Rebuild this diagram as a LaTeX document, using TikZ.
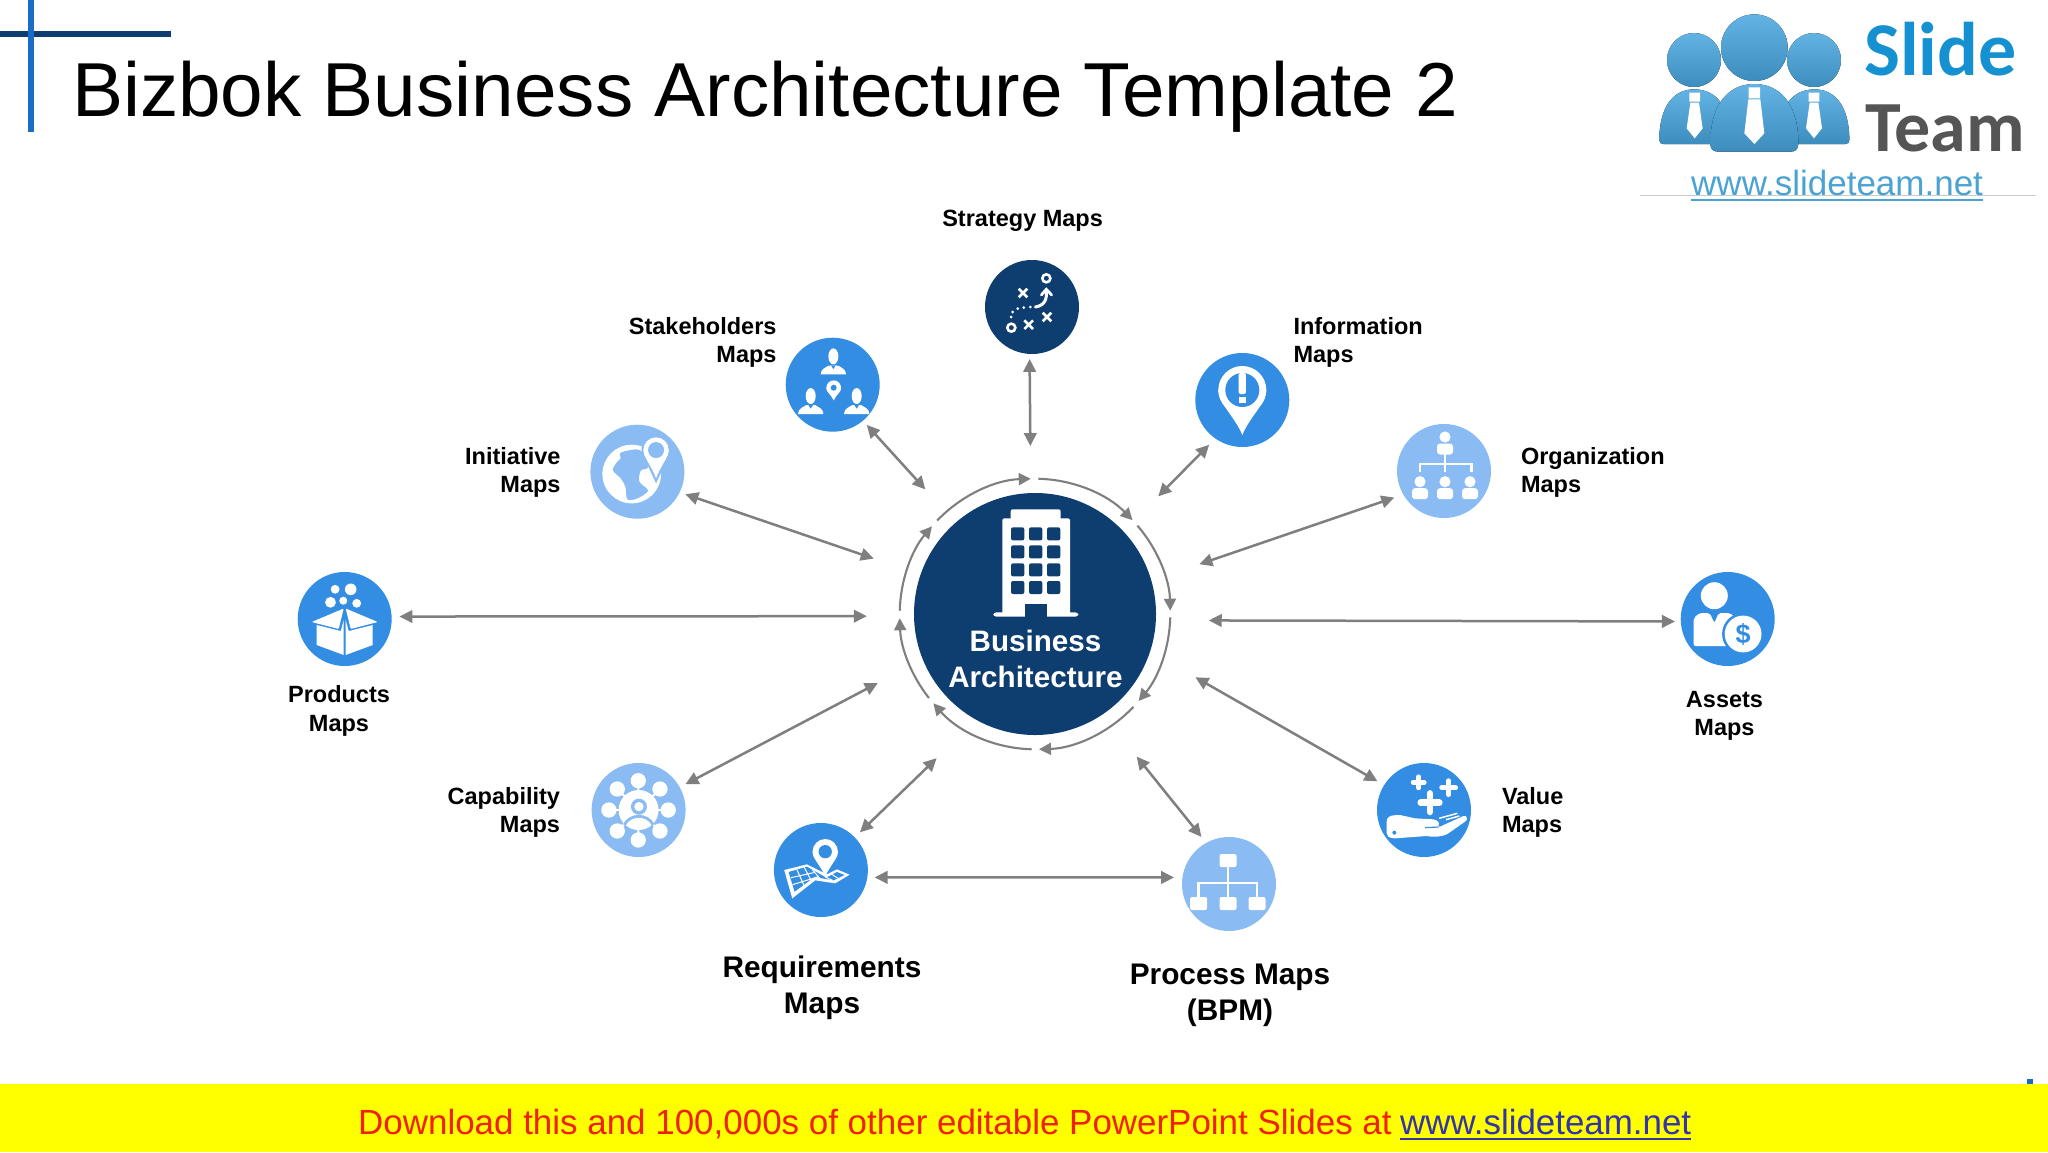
\documentclass[tikz,border=0pt]{standalone}
\usepackage{fontspec}
\setmainfont{Liberation Sans}
\newfontfamily\logofont{Carlito}
\usetikzlibrary{arrows.meta}
\definecolor{navy}{HTML}{0E3D70}
\definecolor{midb}{HTML}{338EE3}
\definecolor{lightb}{HTML}{8ABBF2}
\definecolor{conngray}{HTML}{7F7F7F}
\definecolor{accentb}{HTML}{1A6DC4}
\definecolor{footred}{HTML}{F02000}
\definecolor{footblue}{HTML}{3333AA}
\definecolor{footyellow}{HTML}{FFFF00}
\definecolor{logoblue}{HTML}{47A6DF}
\definecolor{logotext}{HTML}{1590D0}
\definecolor{logogray}{HTML}{555555}
\definecolor{logourl}{HTML}{4BA3D3}
\tikzset{
  iconbase/.style={circle,minimum size=94pt,inner sep=0pt,outer sep=0pt},
  darkicon/.style={iconbase,fill=navy},
  midicon/.style={iconbase,fill=midb},
  lighticon/.style={iconbase,fill=lightb},
  biarrow/.style={draw=conngray,fill=none,line width=2.5pt,<->,>={Triangle[length=13pt,width=12.5pt]}},
  ringarrow/.style={draw=conngray,line width=2.1pt,->,>={Triangle[length=12pt,width=12pt]}},
  lab/.style={inner sep=0pt,outer sep=0pt,font=\fontsize{23.5}{28.5}\selectfont\bfseries},
  biglab/.style={inner sep=0pt,outer sep=0pt,align=center,font=\fontsize{29.8}{36}\selectfont\bfseries},
  zoomed/.style n args={4}{shift={(#1)},shift={(-#2/#4,-#3/3)},x=1pt/#4,y=-1pt/3},
}
\newcommand\iconPerson[2]{\begin{scope}[shift={(#1,#2)}]
  \fill[white] (0,0) ellipse (15 and 24);
  \fill[white] (-38,54) .. controls (-38,38) and (-24,34) .. (-13,27) -- (13,27) .. controls (24,34) and (38,38) .. (38,54) -- cycle;
  \fill[midb] (-7,27) -- (7,27) -- (0,38) -- cycle;
  \draw[midb,line width=.5pt] (-13,24) -- (-13,28) (13,24) -- (13,28);
\end{scope}}
\newcommand\iconPin[6]{\begin{scope}[shift={(#1,#2)}]
  \fill[white] (0,#4) .. controls ({-.3*#3},{.6*#4}) and ({-#3},{.55*#3}) .. ({-#3},0) -- (#3,0) .. controls (#3,{.55*#3}) and ({.3*#3},{.6*#4}) .. (0,#4) -- cycle;
  \fill[white] (0,0) circle (#3);
  \fill[#6] (0,0) circle (#5);
\end{scope}}
\newcommand\iconCross[2]{\draw[white,line width=2.6pt] (#1-13,#2-13) -- (#1+13,#2+13) (#1-13,#2+13) -- (#1+13,#2-13);}
\newcommand\iconPlus[4]{\draw[white,line width=#4pt,line cap=round] (#1-#3,#2) -- (#1+#3,#2) (#1,#2-#3) -- (#1,#2+#3);}
\newcommand\iconOrg[2]{\begin{scope}[shift={(#1,#2)}]
  \fill[white] (0,0) circle (5.6);
  \fill[white,rounded corners=3pt] (-8,6.5) rectangle (8,17.5);
\end{scope}}
\begin{document}
\begin{tikzpicture}[x=1pt,y=-1pt]
\useasboundingbox (0,0) rectangle (2048,1152);
\fill[white] (0,0) rectangle (2048,1152);

% title accent and title
\fill[navy] (0,30.7) rectangle (171,37.3);
\fill[accentb] (28,0) rectangle (33.7,132);
\node[anchor=base west,inner sep=0pt] (title) at (72,116) {\fontsize{76.5}{80}\selectfont Bizbok Business Architecture Template 2};

% footer
\fill[footyellow] (0,1084) rectangle (2048,1152);
\fill[accentb] (2026.5,1079) rectangle (2032.5,1084);
\node[anchor=base west,inner sep=0pt,text=footred] (foottext) at (358,1134) {\fontsize{34.95}{40}\selectfont Download this and 100,000s of other editable PowerPoint Slides at};
\node[anchor=base west,inner sep=0pt,text=footblue] (footlink) at (1400,1134) {\fontsize{34.9}{40}\selectfont www.slideteam.net};
\draw[footblue,line width=2pt] ([yshift=-5pt]footlink.base west) -- ([yshift=-5pt]footlink.base east);

% logo
\begin{scope}[shift={(1620,0)},x=1pt/3,y=-1pt/3]
  \fill[top color=logoblue!85!white,bottom color=logoblue!85!black] (222,180) circle (81);
  \fill[top color=logoblue!85!white,bottom color=logoblue!85!black] (582,180) circle (81);
  \fill[top color=logoblue!85!white,bottom color=logoblue!85!black] (118,420) .. controls (118,320) and (160,268) .. (222,268) .. controls (290,268) and (330,320) .. (330,420) -- (330,432) -- (130,432) .. controls (122,432) and (118,428) .. (118,420) -- cycle;
  \fill[top color=logoblue!85!white,bottom color=logoblue!85!black] (688,420) .. controls (688,320) and (646,268) .. (584,268) .. controls (516,268) and (476,320) .. (476,420) -- (476,432) -- (676,432) .. controls (684,432) and (688,428) .. (688,420) -- cycle;
  \fill[top color=logoblue!85!white,bottom color=logoblue!85!black] (403,143) circle (100);
  \fill[top color=logoblue!85!white,bottom color=logoblue!85!black] (271,430) .. controls (271,320) and (320,252) .. (403,252) .. controls (486,252) and (535,320) .. (535,430) .. controls (535,450) and (525,455) .. (510,455) -- (296,455) .. controls (280,455) and (271,450) .. (271,430) -- cycle;
  \fill[white] (386,262) -- (420,262) -- (420,295) -- (386,295) -- cycle (385,298) -- (421,298) -- (433,400) -- (403,432) -- (373,400) -- cycle;
  \fill[white] (208,278) -- (240,278) -- (240,305) -- (208,305) -- cycle (211,308) -- (237,308) -- (248,385) -- (224,415) -- (200,385) -- cycle;
  \fill[white] (566,278) -- (598,278) -- (598,305) -- (566,305) -- cycle (569,308) -- (595,308) -- (606,385) -- (582,415) -- (558,385) -- cycle;
\end{scope}
\node[anchor=base west,inner sep=0pt,text=logotext] (logoslide) at (1864,75) {\logofont\bfseries\fontsize{76}{80}\selectfont Slide};
\node[anchor=base west,inner sep=0pt,text=logogray] (logoteam) at (1865,151.5) {\logofont\bfseries\fontsize{72}{76}\selectfont Team};
\draw[black!20,line width=1pt] (1640,195) -- (2036,195);
\node[anchor=base west,inner sep=0pt,text=logourl] (logourl) at (1691,195) {\fontsize{35}{40}\selectfont www.slideteam.net};
\draw[logourl,line width=2.5pt] (logourl.base west |- 0,200) -- (logourl.base east |- 0,200);

% hub
\node[circle,fill=navy,minimum size=242pt,inner sep=0pt,outer sep=0pt] (hub) at (1035,614) {};
\foreach \a/\b in {-136.3/-91.8,-88.6/-43.9,-40.8/-1.4,1.4/40,43.3/88.3,91.4/138.7,141.6/178.2,181.4/220.4}
  \draw[ringarrow] ([shift={(\a:135.3)}]hub.center) arc[start angle=\a,end angle=\b,radius=135.3];
\begin{scope}[zoomed={hub}{525}{462}{3}]
  \fill[white,rounded corners=2pt] (452,180) -- (452,148) -- (602,148) -- (602,180) -- cycle;
  \fill[white,rounded corners=2pt] (427,462) -- (427,175) -- (630,175) -- (630,462) -- cycle;
  \fill[white,rounded corners=3pt] (400,457) rectangle (655,470);
  \fill[navy] (495,470) -- (495,432) -- (560,432) -- (560,470) -- cycle;
  \foreach \cx in {453,507,561} \foreach \cy in {202,256,310,363}
    \fill[navy,rounded corners=2pt] (\cx,\cy) rectangle (\cx+40,\cy+39);
\end{scope}
\node[inner sep=0pt,align=center,text=white,font=\fontsize{29.6}{36.5}\selectfont\bfseries] (hubtext) at (1035.5,659) {Business\\Architecture};

% icons
\node[darkicon] (strategy) at (1032,307) {};
\node[midicon] (stake) at (832.7,384.7) {};
\node[midicon] (info) at (1242.3,400) {};
\node[lighticon] (initiative) at (637.4,471.7) {};
\node[lighticon] (org) at (1444,471) {};
\node[midicon] (assets) at (1727.7,619) {};
\node[midicon] (value) at (1424,810) {};
\node[lighticon] (process) at (1229,884) {};
\node[midicon] (req) at (820.9,870) {};
\node[lighticon] (cap) at (638.6,810) {};
\node[midicon] (products) at (344.7,619) {};

% strategy glyph
\begin{scope}[zoomed={strategy}{155}{170}{3}]
  \draw[white,line width=2.6pt] (198,84) circle (12) (93,232) circle (12);
  \iconCross{128}{128}\iconCross{145}{223}\iconCross{200}{200}
  \draw[white,line width=3pt,line cap=round] (165,170) .. controls (195,165) and (200,145) .. (198,120);
  \draw[white,line width=2.8pt,line cap=round] (183,134) -- (198,117) -- (214,134);
  \foreach \p/\q in {150/170,130/172,112/175,97/185,92/200} \fill[white] (\p,\q) circle (4.5);
\end{scope}

% stakeholders glyph
\begin{scope}[zoomed={stake}{758}{163}{3}]
  \iconPerson{760}{78}\iconPerson{692}{197}\iconPerson{830}{197}
  \iconPin{761}{172}{22}{38}{9}{midb}
\end{scope}

% information glyph
\begin{scope}[shift={(info)}]
  \iconPin{0}{-10}{24}{45}{17}{midb}
  \fill[white,rounded corners=1.5pt] (-3.6,-27) rectangle (3.6,-6);
  \fill[white] (-3.6,-3) rectangle (3.6,3);
\end{scope}

% initiative glyph
\begin{scope}[zoomed={initiative}{172}{425}{3}]
  \fill[white] (155,432) circle (88);
  \fill[lightb] plot[smooth cycle] coordinates {(122,368) (170,358) (194,375) (204,412) (182,422) (178,455) (204,482) (172,505) (142,508) (136,470) (122,445) (98,420) (112,395) (122,385)};
  \fill[lightb] (228,360) circle (44);
  \fill[lightb] (198,395) -- (228,460) -- (258,395) -- cycle;
  \iconPin{228}{360}{38}{85}{24}{lightb}
\end{scope}

% organization glyph
\begin{scope}[shift={(org)}]
  \iconOrg{1}{-34}
  \draw[white,line width=2.2pt] (1,-18) -- (1,1) (-24,1) -- (-24,-6.7) -- (27.5,-6.7) -- (27.5,1);
  \iconOrg{-24}{10.7}\iconOrg{1}{10.7}\iconOrg{26}{10.7}
\end{scope}

% assets glyph
\begin{scope}[shift={(assets)}]
  \fill[white] (-13.4,-23.3) circle (13.5);
  \fill[white,rounded corners=2pt] (-34,27) -- (-34,-1) -- (-28,-6) -- (-18,-6) -- (-13.4,4) -- (-9,-6) -- (2,-6) -- (8,-1) -- (8,27) -- cycle;
  \fill[midb] (15.4,15) circle (21);
  \fill[white] (15.4,15) circle (18.4);
  \node[inner sep=0pt,text=midb,font=\fontsize{27}{27}\selectfont\bfseries] (assetsign) at (15.4,15) {\$};
\end{scope}

% value glyph
\begin{scope}[zoomed={value}{162}{180}{3}]
  \iconPlus{180}{158}{28}{6.5}
  \iconPlus{146}{97}{17}{4.5}
  \iconPlus{236}{113}{21}{4.8}
  \fill[white] (50,215) .. controls (50,200) and (60,195) .. (90,195) -- (135,205) -- (190,208) .. controls (205,210) and (210,220) .. (205,228) -- (210,230) -- (280,198) .. controls (292,195) and (295,210) .. (285,215) -- (235,250) .. controls (215,262) and (190,262) .. (170,258) -- (75,265) .. controls (55,264) and (50,258) .. (50,250) -- cycle;
  \draw[midb,line width=1.2pt] (165,233) -- (206,231);
  \draw[white,line width=1.5pt] (207,205) -- (262,190) (228,209) -- (268,198);
  \fill[midb] (73,248) circle (6);
\end{scope}

% process glyph
\begin{scope}[shift={(process)}]
  \draw[white,line width=2.4pt] (-1,-18) -- (-1,13) (-30.4,13) -- (-30.4,-1) -- (28,-1) -- (28,13);
  \fill[white,rounded corners=2pt] (-9.5,-30) rectangle (7.5,-17);
  \foreach \bx in {-30.4,-1,28} \fill[white,rounded corners=2pt] (\bx-8.5,13) rectangle (\bx+8.5,26);
\end{scope}

% requirements glyph
\begin{scope}[zoomed={req}{722}{362}{3}]
  \fill[white,line join=round] (612,362) -- (680,345) -- (740,375) -- (770,360) -- (808,376) -- (765,402) -- (705,393) -- (636,447) -- cycle;
  \fill[midb] (625,368) -- (680,352) -- (738,385) -- (770,368) -- (793,377) -- (760,393) -- (703,383) -- (643,427) -- cycle;
  \draw[white,line width=1pt] (650,361) -- (672,410) (672,354) -- (692,392) (697,362) -- (718,386) (632,385) -- (700,370) (637,406) -- (715,382) (735,383) -- (757,393) (755,375) -- (775,388);
  \iconPin{735}{307}{38}{75}{20}{midb}
\end{scope}

% capability glyph
\begin{scope}[zoomed={cap}{176}{180}{3}]
  \foreach \cx/\cy in {175/92,240/117,265/180,240/243,175/270,112/243,87/180,112/117} {
    \fill[white] (\cx,\cy) circle (23);
    \draw[white,line width=2pt] (\cx,\cy) -- (176,180);
  }
  \fill[white] (176,180) circle (60);
  \fill[lightb] (177,170) circle (24);
  \fill[white] (177,170) circle (14);
  \draw[lightb,line width=2.8pt] (133,225) .. controls (150,190) and (203,190) .. (220,225);
\end{scope}

% products glyph
\begin{scope}[shift={(products)}]
  \fill[white] (-9.6,-29.7) circle (4.4) (6,-29.7) circle (5.8) (-14.2,-16.7) circle (5.4) (-1.4,-18.3) circle (4) (12,-15.7) circle (4.4);
  \fill[white,rounded corners=1pt] (-1,-10.5) -- (-33,3) -- (-6,10) -- cycle (1,-10.5) -- (33,3) -- (6,10) -- cycle;
  \fill[white] (-28,6) -- (-4,12) -- (-1,1) -- (-1,36) -- (-28,26) -- cycle (28,6) -- (4,12) -- (1,1) -- (1,36) -- (28,26) -- cycle;
\end{scope}

% connectors
\draw[biarrow,shorten <=5pt,shorten >=47pt] (strategy.-93) -- (hub.92.6);
\draw[biarrow,shorten <=5.7pt,shorten >=45pt] (stake.-50.1) -- (hub.131);
\draw[biarrow,shorten <=8.8pt,shorten >=49.4pt] (info.-125.5) -- (hub.43.6);
\draw[biarrow,shorten <=6pt,shorten >=49.5pt] (initiative.-26.8) -- (hub.161.1);
\draw[biarrow,shorten <=9.5pt,shorten >=50.8pt] (org.-150.8) -- (hub.16.9);
\draw[biarrow,shorten <=5.8pt,shorten >=52.9pt] (assets.-177.2) -- (hub.-3.5);
\draw[biarrow,shorten <=7.7pt,shorten >=52.2pt] (value.148) -- (hub.-18.1);
\draw[biarrow,shorten <=7.7pt,shorten >=54.2pt] (process.119.8) -- (hub.-56.6);
\draw[biarrow,shorten <=7.3pt,shorten >=55.2pt] (req.44.9) -- (hub.-119.6);
\draw[biarrow,shorten <=6.5pt,shorten >=50.8pt] (cap.29.3) -- (hub.-158.1);
\draw[biarrow,shorten <=7.8pt,shorten >=47.2pt] (products.3.7) -- (hub.-179.1);
\draw[biarrow,shorten <=7.3pt,shorten >=8.4pt] (req.-9.4) -- (process.172.3);

% labels
\node[lab] (lstrategy) at (1022.6,221) {Strategy Maps};
\node[lab,anchor=east,align=right] (lstake) at (776.5,342.5) {Stakeholders\\Maps};
\node[lab,anchor=west,align=left] (linfo) at (1293.5,342.5) {Information\\Maps};
\node[lab,anchor=east,align=right] (linit) at (560.5,472.5) {Initiative\\Maps};
\node[lab,anchor=west,align=left] (lorg) at (1521,472.5) {Organization\\Maps};
\node[lab,align=center] (lprod) at (339,711) {Products\\Maps};
\node[lab,align=center] (lassets) at (1724.5,716) {Assets\\Maps};
\node[lab,anchor=east,align=right] (lcap) at (560,812.5) {Capability\\Maps};
\node[lab,anchor=west,align=left] (lvalue) at (1502,812.5) {Value\\Maps};
\node[biglab] (lreq) at (822,987.5) {Requirements\\Maps};
\node[biglab] (lproc) at (1230,995) {Process Maps\\(BPM)};
\end{tikzpicture}
\end{document}
